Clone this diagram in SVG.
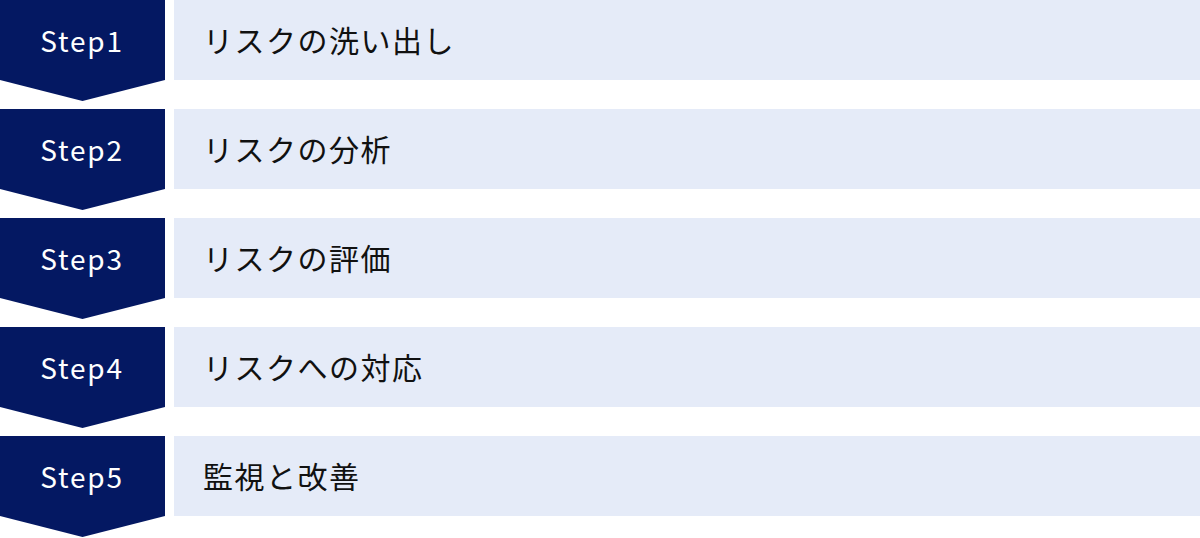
<svg xmlns="http://www.w3.org/2000/svg" width="1200" height="538" viewBox="0 0 1200 538">
<style>
.chev{fill:#041862}
.box{fill:#E5EBF8}
.st{font-family:"Noto Sans CJK JP","Noto Sans",sans-serif;font-size:28px;font-weight:400;fill:#fff;text-anchor:middle;letter-spacing:1.8px}
.lb{font-family:"Noto Sans CJK JP","Noto Sans",sans-serif;font-size:30px;fill:#111;letter-spacing:1.5px}
</style>
<rect width="1200" height="538" fill="#fff"/>
<g id="step1"><polygon class="chev" points="0,0 165,0 165,80 82.5,101 0,80"/><rect class="box" x="174" y="0" width="1026" height="80"/><text class="st" x="82" y="52">Step1</text><text class="lb" x="203" y="52">リスクの洗い出し</text></g>
<g id="step2" transform="translate(0,109)"><polygon class="chev" points="0,0 165,0 165,80 82.5,101 0,80"/><rect class="box" x="174" y="0" width="1026" height="80"/><text class="st" x="82" y="52">Step2</text><text class="lb" x="203" y="52">リスクの分析</text></g>
<g id="step3" transform="translate(0,218)"><polygon class="chev" points="0,0 165,0 165,80 82.5,101 0,80"/><rect class="box" x="174" y="0" width="1026" height="80"/><text class="st" x="82" y="52">Step3</text><text class="lb" x="203" y="52">リスクの評価</text></g>
<g id="step4" transform="translate(0,327)"><polygon class="chev" points="0,0 165,0 165,80 82.5,101 0,80"/><rect class="box" x="174" y="0" width="1026" height="80"/><text class="st" x="82" y="52">Step4</text><text class="lb" x="203" y="52">リスクへの対応</text></g>
<g id="step5" transform="translate(0,436)"><polygon class="chev" points="0,0 165,0 165,80 82.5,101 0,80"/><rect class="box" x="174" y="0" width="1026" height="80"/><text class="st" x="82" y="52">Step5</text><text class="lb" x="203" y="52">監視と改善</text></g>
<g id="connectors"></g>
</svg>
